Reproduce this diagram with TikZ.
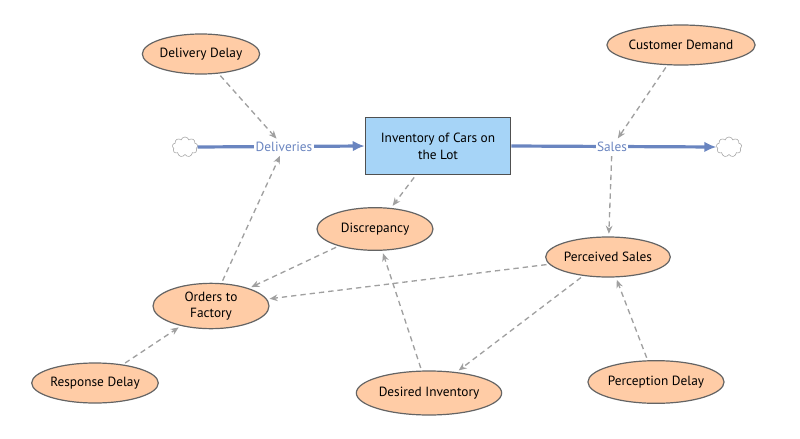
\documentclass[tikz,border=0pt]{standalone}
\usepackage{fontspec}
\setmainfont{PT Sans}
\usetikzlibrary{shapes.geometric,shapes.symbols,arrows.meta}
\definecolor{peach}{RGB}{255,204,166}
\definecolor{stockblue}{RGB}{166,212,247}
\definecolor{flowblue}{RGB}{106,133,192}
\definecolor{linkgray}{RGB}{160,160,160}
\tikzset{
  aux/.style={ellipse,draw={rgb,255:red,100;green,100;blue,100},line width=0.9pt,fill=peach,
    minimum width=#1,minimum height=30pt,inner sep=0pt,align=center,font=\fontsize{10}{12}\selectfont},
  aux/.default={88pt},
  stock/.style={rectangle,draw={rgb,255:red,80;green,80;blue,80},line width=0.9pt,fill=stockblue,
    minimum width=109pt,minimum height=43pt,align=center,font=\fontsize{10}{12.5}\selectfont},
  sky/.style={cloud,cloud puffs=9,draw=linkgray,fill=white,minimum width=19pt,minimum height=15pt,inner sep=0pt},
  flow/.style={flowblue,line width=2.4pt,-{Latex[length=9pt,width=8pt]}},
  flowlabel/.style={font=\fontsize{10}{12}\selectfont,text=flowblue,inner sep=1pt},
  link/.style={linkgray,line width=1pt,dash pattern=on 4pt off 3pt,-{Stealth[length=6pt,width=5pt]},shorten >=2pt,shorten <=2pt}
}
\begin{document}
\begin{tikzpicture}[x=0.75pt,y=0.75pt,yscale=-1,xscale=1]
\useasboundingbox (0,0) rectangle (800,439);

% Stock and clouds
\node [stock] (inv) at (438,146) {Inventory of Cars on\\the Lot};
\node [sky] (srcL) at (185,147) {};
\node [sky] (sinkR) at (729,147) {};

% Flows
\draw [flow] (srcL.east) -- (inv.west);
\draw [flow] (inv.east) -- (sinkR.west);
\node [flowlabel,fill=white] (del) at (284,147) {Deliveries};
\node [flowlabel,fill=white] (sal) at (612,147) {Sales};

% Auxiliaries
\node [aux=88pt] (dd) at (201,54) {Delivery Delay};
\node [aux=83pt] (cd) at (681,45) {Customer Demand};
\node [aux=87pt,minimum height=32pt] (disc) at (375,229) {Discrepancy};
\node [aux=88pt] (ps) at (608,257) {Perceived Sales};
\node [aux=87pt,minimum height=34pt] (otf) at (211,306) {Orders to\\Factory};
\node [aux=87pt] (rd) at (95,383) {Response Delay};
\node [aux=109pt,minimum height=33pt] (di) at (429,393) {Desired Inventory};
\node [aux=87pt,minimum height=32pt] (pd) at (656,382) {Perception Delay};

% Links
\draw [link] (dd) -- (del);
\draw [link] (otf) -- (del);
\draw [link] (cd) -- (sal);
\draw [link] (inv) -- (disc);
\draw [link] (disc) -- (otf);
\draw [link] (ps) -- (otf);
\draw [link] (sal) -- (ps);
\draw [link] (rd) -- (otf);
\draw [link] (di) -- (disc);
\draw [link] (ps) -- (di);
\draw [link] (pd) -- (ps);

\end{tikzpicture}
\end{document}
